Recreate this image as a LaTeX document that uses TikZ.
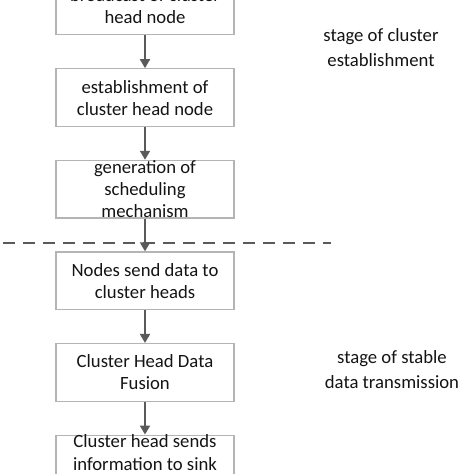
\documentclass[tikz,border=0pt]{standalone}
\usepackage{fontspec}
\setmainfont{Carlito}
\usepackage{tikz}
\usetikzlibrary{arrows.meta,positioning}
\definecolor{boxgray}{HTML}{B4B4B4}
\definecolor{linegray}{HTML}{5A5A5A}
\definecolor{textgray}{HTML}{141414}
\tikzset{
	stagebox/.style={draw=boxgray, line width=1.3pt, minimum width=178pt, minimum height=57.6pt, inner sep=0pt, align=center, text=textgray, font=\fontsize{18.7}{22}\selectfont},
	stagetext/.style={inner sep=0pt, align=center, text=textgray, font=\fontsize{18.7}{23}\selectfont},
	stagelabel/.style={align=center, text=textgray, font=\fontsize{18.7}{25}\selectfont},
	flow/.style={line width=1.8pt, color=linegray, -{Triangle[length=9pt,width=10pt]}},
	sep/.style={line width=1.8pt, color=linegray, dash pattern=on 12pt off 8pt}
}

\begin{document}
\begin{tikzpicture}[x=1pt, y=1pt, node distance=32.7pt]
		%%%%% START %%%%%
		
		\useasboundingbox (0,0) rectangle (474,-474);
		\clip (0,0) rectangle (474,-474);
		
		\node[stagebox] (broadcast) at (145,-6) {broadcast of cluster\\head node};
		\node[stagebox, below=of broadcast] (establish) {establishment of\\cluster head node};
		\node[stagebox, below=of establish] (schedule) {generation of\\scheduling\\mechanism};
		\node[stagebox, below=of schedule] (senddata) {Nodes send data to\\cluster heads};
		\node[stagebox, below=of senddata] (fusion) {Cluster Head Data\\Fusion};
		\node[stagebox, below=of fusion] (tosink) {};
		\node[stagetext, anchor=north] (tosinktext) at ([yshift=0.5pt]tosink.north) {Cluster head sends\\information to sink};
		
		\node[stagelabel] (stageone) at (381,-48) {stage of cluster\\establishment};
		\node[stagelabel] (stagetwo) at (392,-370) {stage of stable\\data transmission};
		
		\coordinate (sepleft) at (3,-243);
		\coordinate (sepright) at (331,-243);
		\draw[sep] (sepleft) -- (sepright);
		
		\draw[flow] (broadcast) -- (establish);
		\draw[flow] (establish) -- (schedule);
		\draw[flow] (schedule) -- (senddata);
		\draw[flow] (senddata) -- (fusion);
		\draw[flow] (fusion) -- (tosink);
		
		%%%%% END %%%%%
	\end{tikzpicture}
\end{document}
